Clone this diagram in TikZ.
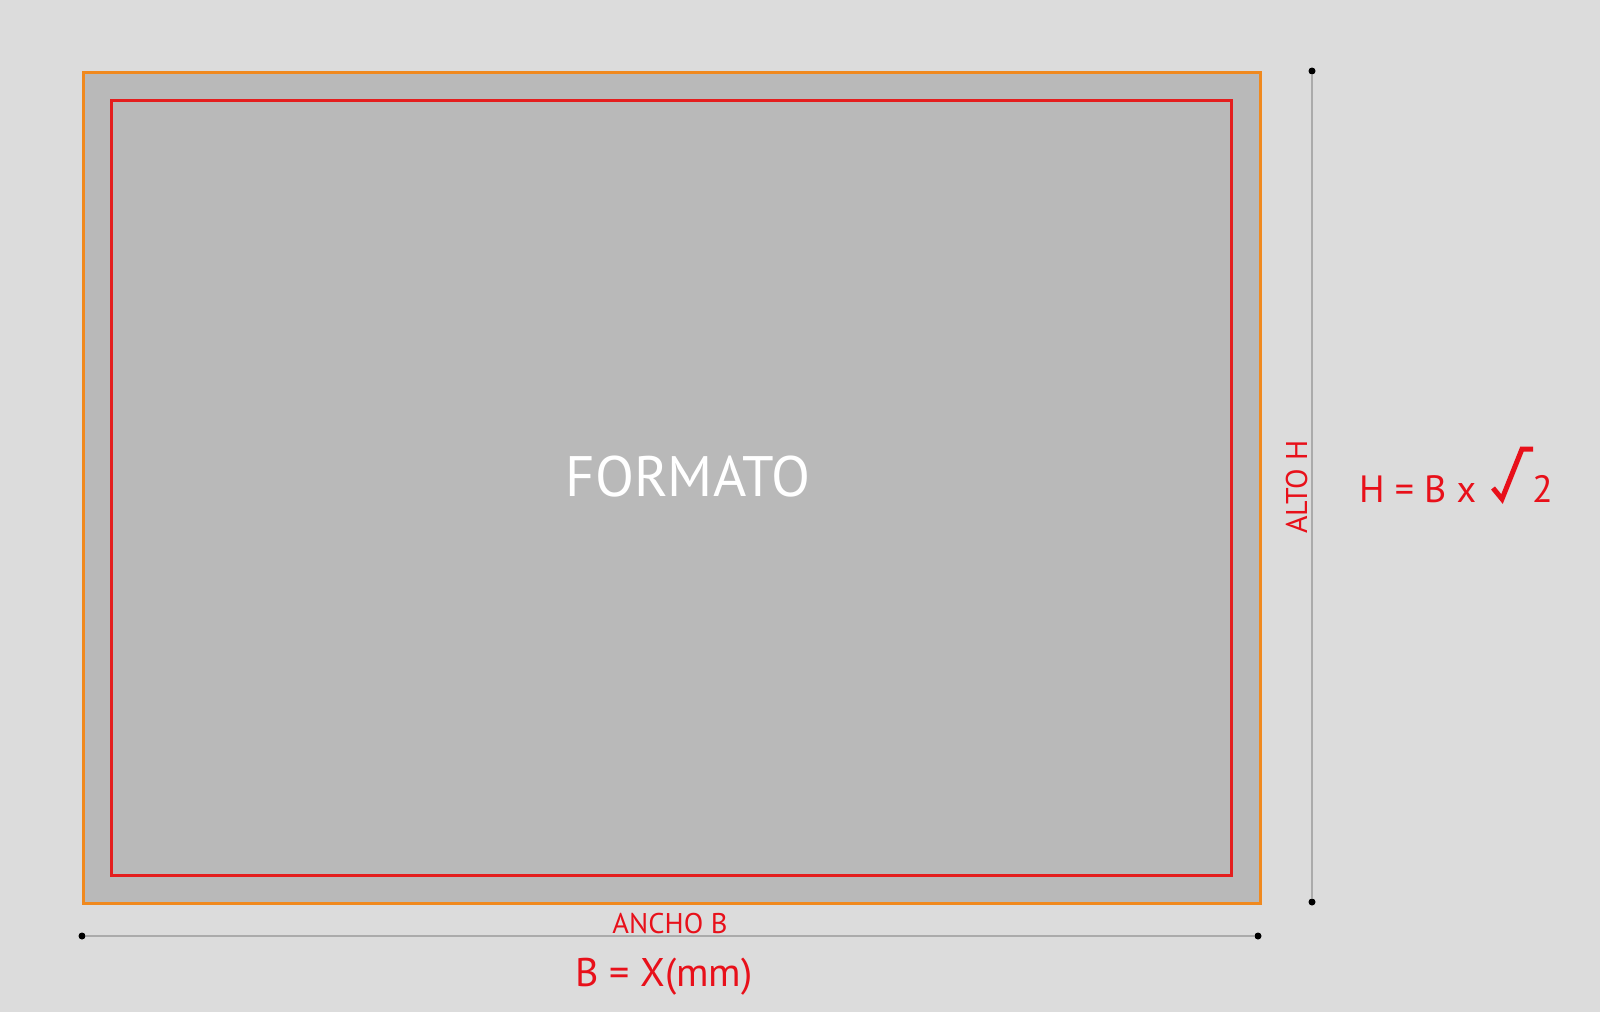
\documentclass[tikz,border=0pt]{standalone}
\usepackage{fontspec}
\setmainfont{PT Sans}
\definecolor{bgc}{HTML}{DCDCDC}
\definecolor{paper}{HTML}{B9B9B9}
\definecolor{orng}{HTML}{F0891E}
\definecolor{redl}{HTML}{E41E1E}
\definecolor{redt}{HTML}{E8101A}
\definecolor{dim}{HTML}{ABABAB}
\begin{document}
\begin{tikzpicture}[x=1pt,y=-1pt,
  dimline/.style={draw=dim,line width=1.3pt},
  dotm/.style={circle,fill=black,inner sep=0pt,minimum size=7pt},
  lbl/.style={text=redt,inner sep=0pt,anchor=base}]
\fill[bgc] (0,0) rectangle (1600,1012);
\useasboundingbox (0,0) rectangle (1600,1012);
\node[draw=orng,fill=paper,line width=3pt,inner sep=0pt,minimum width=1177pt,minimum height=831pt,anchor=north west] (sheet) at (82,71) {};
\node[draw=redl,line width=3pt,inner sep=0pt,minimum width=1120pt,minimum height=775pt,anchor=north west] (margin) at (110,99) {};
\node[text=white,font=\fontsize{57}{62}\selectfont,inner sep=0pt,anchor=base] (fmt) at (688,496) {FORMATO};
% vertical dimension
\node[dotm] (vt) at (1312,71) {};
\node[dotm] (vb) at (1312,902) {};
\draw[dimline] (vt) -- (vb);
\node[lbl,font=\fontsize{30}{34}\selectfont,rotate=90] (alto) at (1307,487) {ALTO H};
% horizontal dimension
\node[dotm] (hl) at (82,936) {};
\node[dotm] (hr) at (1258,936) {};
\draw[dimline] (hl) -- (hr);
\node[lbl,font=\fontsize{28.5}{32}\selectfont] (ancho) at (670,933) {ANCHO B};
\node[lbl,font=\fontsize{40}{46}\selectfont] (bx) at (664,986) {B = X(mm)};
% formula
\node[lbl,font=\fontsize{38}{44}\selectfont,anchor=base west] (hb) at (1359,502) {H = B x};
\node[lbl,font=\fontsize{38}{44}\selectfont,anchor=base west] (two) at (1532,502) {2};
\coordinate (r1) at (1493,488);
\coordinate (r2) at (1502,499);
\coordinate (r3) at (1522,449);
\coordinate (r4) at (1533,449);
\draw[redt,line width=5pt,line join=miter] (r1) -- (r2) -- (r3) -- (r4);
\end{tikzpicture}
\end{document}
